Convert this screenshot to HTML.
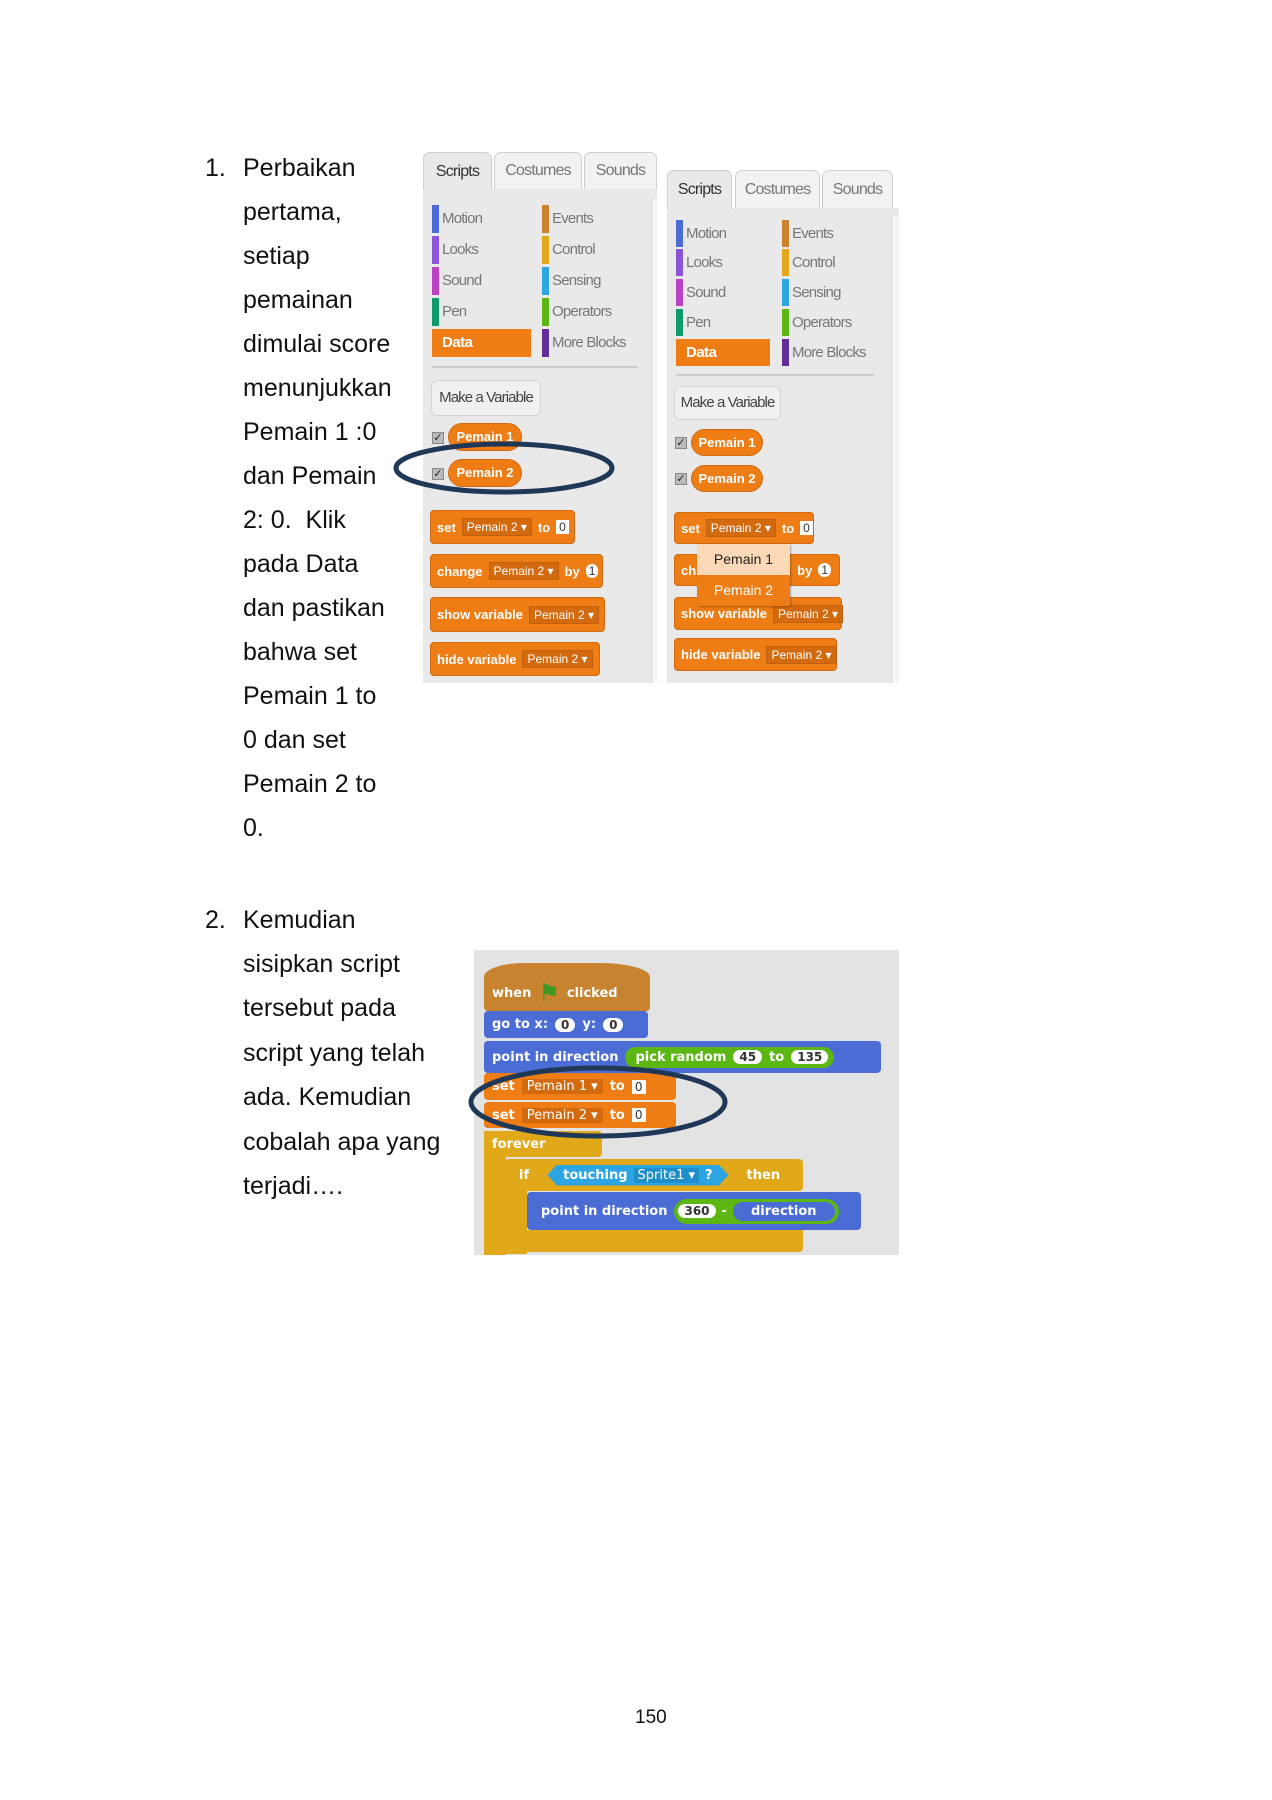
<!DOCTYPE html>
<html><head><meta charset="utf-8"><style>
*{margin:0;padding:0;box-sizing:border-box}
body{width:1272px;height:1800px;background:#fff;position:relative;overflow:hidden;font-family:"Liberation Sans",Arial,sans-serif}
.a{position:absolute}
.t{position:absolute;font-size:25px;color:#111;line-height:25px;white-space:nowrap}
.panel{position:absolute;background:#e9e9e9}
.tab{position:absolute;border:1px solid #cfcfcf;border-bottom:none;border-radius:7px 7px 0 0;background:#f2f2f2;color:#777;font-size:16px;letter-spacing:-0.8px;text-align:center;white-space:nowrap}
.tab.on{background:#e9e9e9;color:#333}
.cat{position:absolute;font-size:15px;letter-spacing:-0.8px;color:#777;height:28px;line-height:28px;padding-left:10px;white-space:nowrap}
.cat i{position:absolute;left:0;top:0;width:7px;height:100%}
.data{position:absolute;background:#ee7d16;color:#fff;font-weight:bold;font-size:15px;letter-spacing:-0.5px;line-height:28px;padding-left:10px}
.btn{position:absolute;border:1px solid #d4d4d4;border-radius:6px;background:#f0f0f0;color:#444;font-size:15px;letter-spacing:-0.9px;text-align:center;white-space:nowrap}
.rep{position:absolute;background:#ee7d16;border:1px solid #d06a10;border-radius:14px;color:#fff;font-weight:bold;font-size:13px;text-align:center}
.chk{position:absolute;width:12px;height:12px;background:#bbb;border:1px solid #888;font-size:11px;line-height:10px;color:#222;text-align:center}
.blk{position:absolute;background:#ee7d16;border:1px solid #cf6a12;border-radius:4px;color:#fff;font-weight:bold;font-size:13px;white-space:nowrap;padding-left:6px;display:flex;align-items:center;gap:6px}
.dd{background:#d46a0e;border:1px solid #c0600e;font-weight:normal;padding:1px 4px;font-size:12px}
.num{background:#fff;color:#333;padding:0 3px;font-weight:normal;font-size:12px}
.sb{position:absolute;background:#f3f3f3;border-left:1px solid #d5d5d5}
.s{position:absolute;border-radius:4px;color:#fff;font-weight:bold;font-size:13px;white-space:nowrap;padding-left:8px;display:flex;align-items:center;gap:7px;font-family:"DejaVu Sans","Liberation Sans",sans-serif}
.ov{background:#fff;color:#333;border-radius:10px;padding:0 6px;font-size:12px}
</style></head><body>

<!-- text item 1 -->
<div class="t" style="left:205px;top:156px">1.</div>
<div class="t" style="left:243px;top:156px">Perbaikan</div>
<div class="t" style="left:243px;top:200px">pertama,</div>
<div class="t" style="left:243px;top:244px">setiap</div>
<div class="t" style="left:243px;top:288px">pemainan</div>
<div class="t" style="left:243px;top:332px">dimulai score</div>
<div class="t" style="left:243px;top:376px">menunjukkan</div>
<div class="t" style="left:243px;top:420px">Pemain 1 :0</div>
<div class="t" style="left:243px;top:464px">dan Pemain</div>
<div class="t" style="left:243px;top:508px">2: 0.&nbsp; Klik</div>
<div class="t" style="left:243px;top:552px">pada Data</div>
<div class="t" style="left:243px;top:596px">dan pastikan</div>
<div class="t" style="left:243px;top:640px">bahwa set</div>
<div class="t" style="left:243px;top:684px">Pemain 1 to</div>
<div class="t" style="left:243px;top:728px">0 dan set</div>
<div class="t" style="left:243px;top:772px">Pemain 2 to</div>
<div class="t" style="left:243px;top:816px">0.</div>

<!-- text item 2 -->
<div class="t" style="left:205px;top:908px">2.</div>
<div class="t" style="left:243px;top:908px">Kemudian</div>
<div class="t" style="left:243px;top:952px">sisipkan script</div>
<div class="t" style="left:243px;top:996px">tersebut pada</div>
<div class="t" style="left:243px;top:1041px">script yang telah</div>
<div class="t" style="left:243px;top:1085px">ada. Kemudian</div>
<div class="t" style="left:243px;top:1130px">cobalah apa yang</div>
<div class="t" style="left:243px;top:1174px">terjadi….</div>

<!-- LEFT PANEL -->
<div class="panel" style="left:423px;top:189px;width:234px;height:494px"></div>
<div class="sb" style="left:651px;top:199px;width:6px;height:484px"></div>
<div class="tab on" style="left:423px;top:152px;width:69px;height:38px;line-height:38px">Scripts</div>
<div class="tab" style="left:494px;top:152px;width:88px;height:37px;line-height:36px">Costumes</div>
<div class="tab" style="left:584px;top:152px;width:73px;height:37px;line-height:36px">Sounds</div>
<div class="cat" style="left:432px;top:205px"><i style="background:#4a6cd4"></i>Motion</div>
<div class="cat" style="left:432px;top:236px"><i style="background:#8a55d7"></i>Looks</div>
<div class="cat" style="left:432px;top:267px"><i style="background:#bb42c3"></i>Sound</div>
<div class="cat" style="left:432px;top:298px"><i style="background:#0e9a6c"></i>Pen</div>
<div class="data" style="left:432px;top:329px;width:99px;height:28px">Data</div>
<div class="cat" style="left:542px;top:205px"><i style="background:#c88330"></i>Events</div>
<div class="cat" style="left:542px;top:236px"><i style="background:#e1a91a"></i>Control</div>
<div class="cat" style="left:542px;top:267px"><i style="background:#2ca5e2"></i>Sensing</div>
<div class="cat" style="left:542px;top:298px"><i style="background:#5cb712"></i>Operators</div>
<div class="cat" style="left:542px;top:329px"><i style="background:#632d99"></i>More Blocks</div>
<div class="a" style="left:432px;top:366px;width:206px;height:2px;background:#ccc"></div>
<div class="btn" style="left:431px;top:380px;width:110px;height:36px;line-height:34px">Make a Variable</div>
<div class="chk" style="left:432px;top:432px">✓</div>
<div class="rep" style="left:448px;top:423px;width:74px;height:28px;line-height:26px">Pemain 1</div>
<div class="chk" style="left:432px;top:468px">✓</div>
<div class="rep" style="left:448px;top:459px;width:74px;height:28px;line-height:26px">Pemain 2</div>
<div class="blk" style="left:430px;top:510px;height:34px;width:145px">set <span class="dd">Pemain 2 ▾</span> to <span class="num">0</span></div>
<div class="blk" style="left:430px;top:554px;height:34px;width:173px">change <span class="dd">Pemain 2 ▾</span> by <span class="num" style="border-radius:8px">1</span></div>
<div class="blk" style="left:430px;top:597px;height:35px;width:175px">show variable <span class="dd">Pemain 2 ▾</span></div>
<div class="blk" style="left:430px;top:642px;height:34px;width:170px">hide variable <span class="dd">Pemain 2 ▾</span></div>
<svg class="a" style="left:390px;top:435px" width="230" height="70"><ellipse cx="114" cy="33" rx="108" ry="24" fill="none" stroke="#1f3858" stroke-width="5"/></svg>

<!-- RIGHT PANEL -->
<div class="panel" style="left:667px;top:208px;width:232px;height:475px"></div>
<div class="sb" style="left:891px;top:216px;width:8px;height:467px"></div>
<div class="tab on" style="left:667px;top:170px;width:65px;height:39px;line-height:38px">Scripts</div>
<div class="tab" style="left:735px;top:170px;width:85px;height:38px;line-height:37px">Costumes</div>
<div class="tab" style="left:822px;top:170px;width:71px;height:38px;line-height:37px">Sounds</div>
<div class="cat" style="left:676px;top:220px;height:27px"><i style="background:#4a6cd4"></i>Motion</div>
<div class="cat" style="left:676px;top:249px;height:27px"><i style="background:#8a55d7"></i>Looks</div>
<div class="cat" style="left:676px;top:279px;height:27px"><i style="background:#bb42c3"></i>Sound</div>
<div class="cat" style="left:676px;top:309px;height:27px"><i style="background:#0e9a6c"></i>Pen</div>
<div class="data" style="left:676px;top:339px;width:94px;height:27px;line-height:27px">Data</div>
<div class="cat" style="left:782px;top:220px;height:27px"><i style="background:#c88330"></i>Events</div>
<div class="cat" style="left:782px;top:249px;height:27px"><i style="background:#e1a91a"></i>Control</div>
<div class="cat" style="left:782px;top:279px;height:27px"><i style="background:#2ca5e2"></i>Sensing</div>
<div class="cat" style="left:782px;top:309px;height:27px"><i style="background:#5cb712"></i>Operators</div>
<div class="cat" style="left:782px;top:339px;height:27px"><i style="background:#632d99"></i>More Blocks</div>
<div class="a" style="left:676px;top:374px;width:198px;height:2px;background:#ccc"></div>
<div class="btn" style="left:674px;top:386px;width:107px;height:34px;line-height:32px">Make a Variable</div>
<div class="chk" style="left:675px;top:437px">✓</div>
<div class="rep" style="left:691px;top:429px;width:72px;height:27px;line-height:25px">Pemain 1</div>
<div class="chk" style="left:675px;top:473px">✓</div>
<div class="rep" style="left:691px;top:465px;width:72px;height:27px;line-height:25px">Pemain 2</div>
<div class="blk" style="left:674px;top:512px;height:32px;width:140px">set <span class="dd">Pemain 2 ▾</span> to <span class="num">0</span></div>
<div class="blk" style="left:674px;top:554px;height:32px;width:166px">ch<span style="flex:1"></span>by <span class="num" style="border-radius:8px;margin-right:8px">1</span></div>
<div class="blk" style="left:674px;top:597px;height:33px;width:168px">show variable <span class="dd">Pemain 2 ▾</span></div>
<div class="blk" style="left:674px;top:638px;height:33px;width:163px">hide variable <span class="dd">Pemain 2 ▾</span></div>
<div class="a" style="left:697px;top:544px;width:93px;height:62px;background:#ee7d16;box-shadow:1px 1px 2px rgba(0,0,0,.3)">
 <div style="height:31px;background:#fbd9b6;color:#222;font-size:14px;line-height:31px;text-align:center">Pemain 1</div>
 <div style="height:31px;color:#fff;font-size:14px;line-height:31px;text-align:center">Pemain 2</div>
</div>

<!-- SCRIPT IMAGE -->
<div class="a" style="left:474px;top:950px;width:425px;height:305px;background:#e3e3e3;overflow:hidden">
 <div class="a" style="left:10px;top:181px;width:22px;height:130px;background:#e1a91a"></div>
 <div class="s" style="left:10px;top:181px;width:118px;height:26px;background:#e1a91a">forever</div>
 <div class="a" style="left:31px;top:209px;width:22px;height:95px;background:#e1a91a;border-radius:4px 0 0 0"></div>
 <div class="s" style="left:31px;top:209px;width:298px;height:32px;background:#e1a91a;padding-left:14px;gap:18px">if <span style="background:#2ca5e2;padding:3px 16px;clip-path:polygon(10px 0,calc(100% - 10px) 0,100% 50%,calc(100% - 10px) 100%,10px 100%,0 50%);display:flex;gap:6px">touching <span style="background:#1f8fcc;font-weight:normal;padding:0 4px">Sprite1 ▾</span> ?</span>then</div>
 <div class="a" style="left:31px;top:280px;width:298px;height:22px;background:#e1a91a;border-radius:0 0 4px 4px"></div>
 <div class="s" style="left:53px;top:242px;width:334px;height:38px;background:#4a6cd4;padding-left:14px">point in direction <span style="background:#5cb712;border-radius:14px;padding:3px 4px;display:flex;gap:6px;align-items:center"><span class="ov">360</span>- <span style="background:#4a6cd4;border-radius:12px;padding:2px 18px">direction</span></span></div>
 <div class="a" style="left:53px;top:305px;width:276px;height:6px;background:#e1a91a"></div>
 <div class="a" style="left:10px;top:13px;width:166px;height:48px;background:#c88330;border-radius:40px 50px 4px 4px / 14px 14px 4px 4px"></div>
 <div class="s" style="left:10px;top:25px;width:166px;height:36px;background:#c88330">when <span style="color:#3a9a24;font-size:24px">⚑</span> clicked</div>
 <div class="s" style="left:10px;top:61px;width:164px;height:27px;background:#4a6cd4">go to x: <span class="ov">0</span> y: <span class="ov">0</span></div>
 <div class="s" style="left:10px;top:91px;width:397px;height:32px;background:#4a6cd4">point in direction <span style="background:#5cb712;border-radius:14px;padding:3px 6px 3px 10px;display:flex;gap:7px;align-items:center">pick random <span class="ov">45</span> to <span class="ov">135</span></span></div>
 <div class="s" style="left:10px;top:123px;width:192px;height:27px;background:#ee7d16">set <span style="background:#d46a0e;font-weight:normal;padding:0 5px">Pemain 1 ▾</span> to <span class="num">0</span></div>
 <div class="s" style="left:10px;top:152px;width:192px;height:26px;background:#ee7d16">set <span style="background:#d46a0e;font-weight:normal;padding:0 5px">Pemain 2 ▾</span> to <span class="num">0</span></div>
</div>
<svg class="a" style="left:465px;top:1060px" width="270" height="90"><ellipse cx="133" cy="42" rx="127" ry="34" fill="none" stroke="#1f3858" stroke-width="5"/></svg>

<div class="a" style="left:635px;top:1707px;font-size:19px;color:#111;font-family:'Liberation Sans',sans-serif">150</div>
</body></html>
